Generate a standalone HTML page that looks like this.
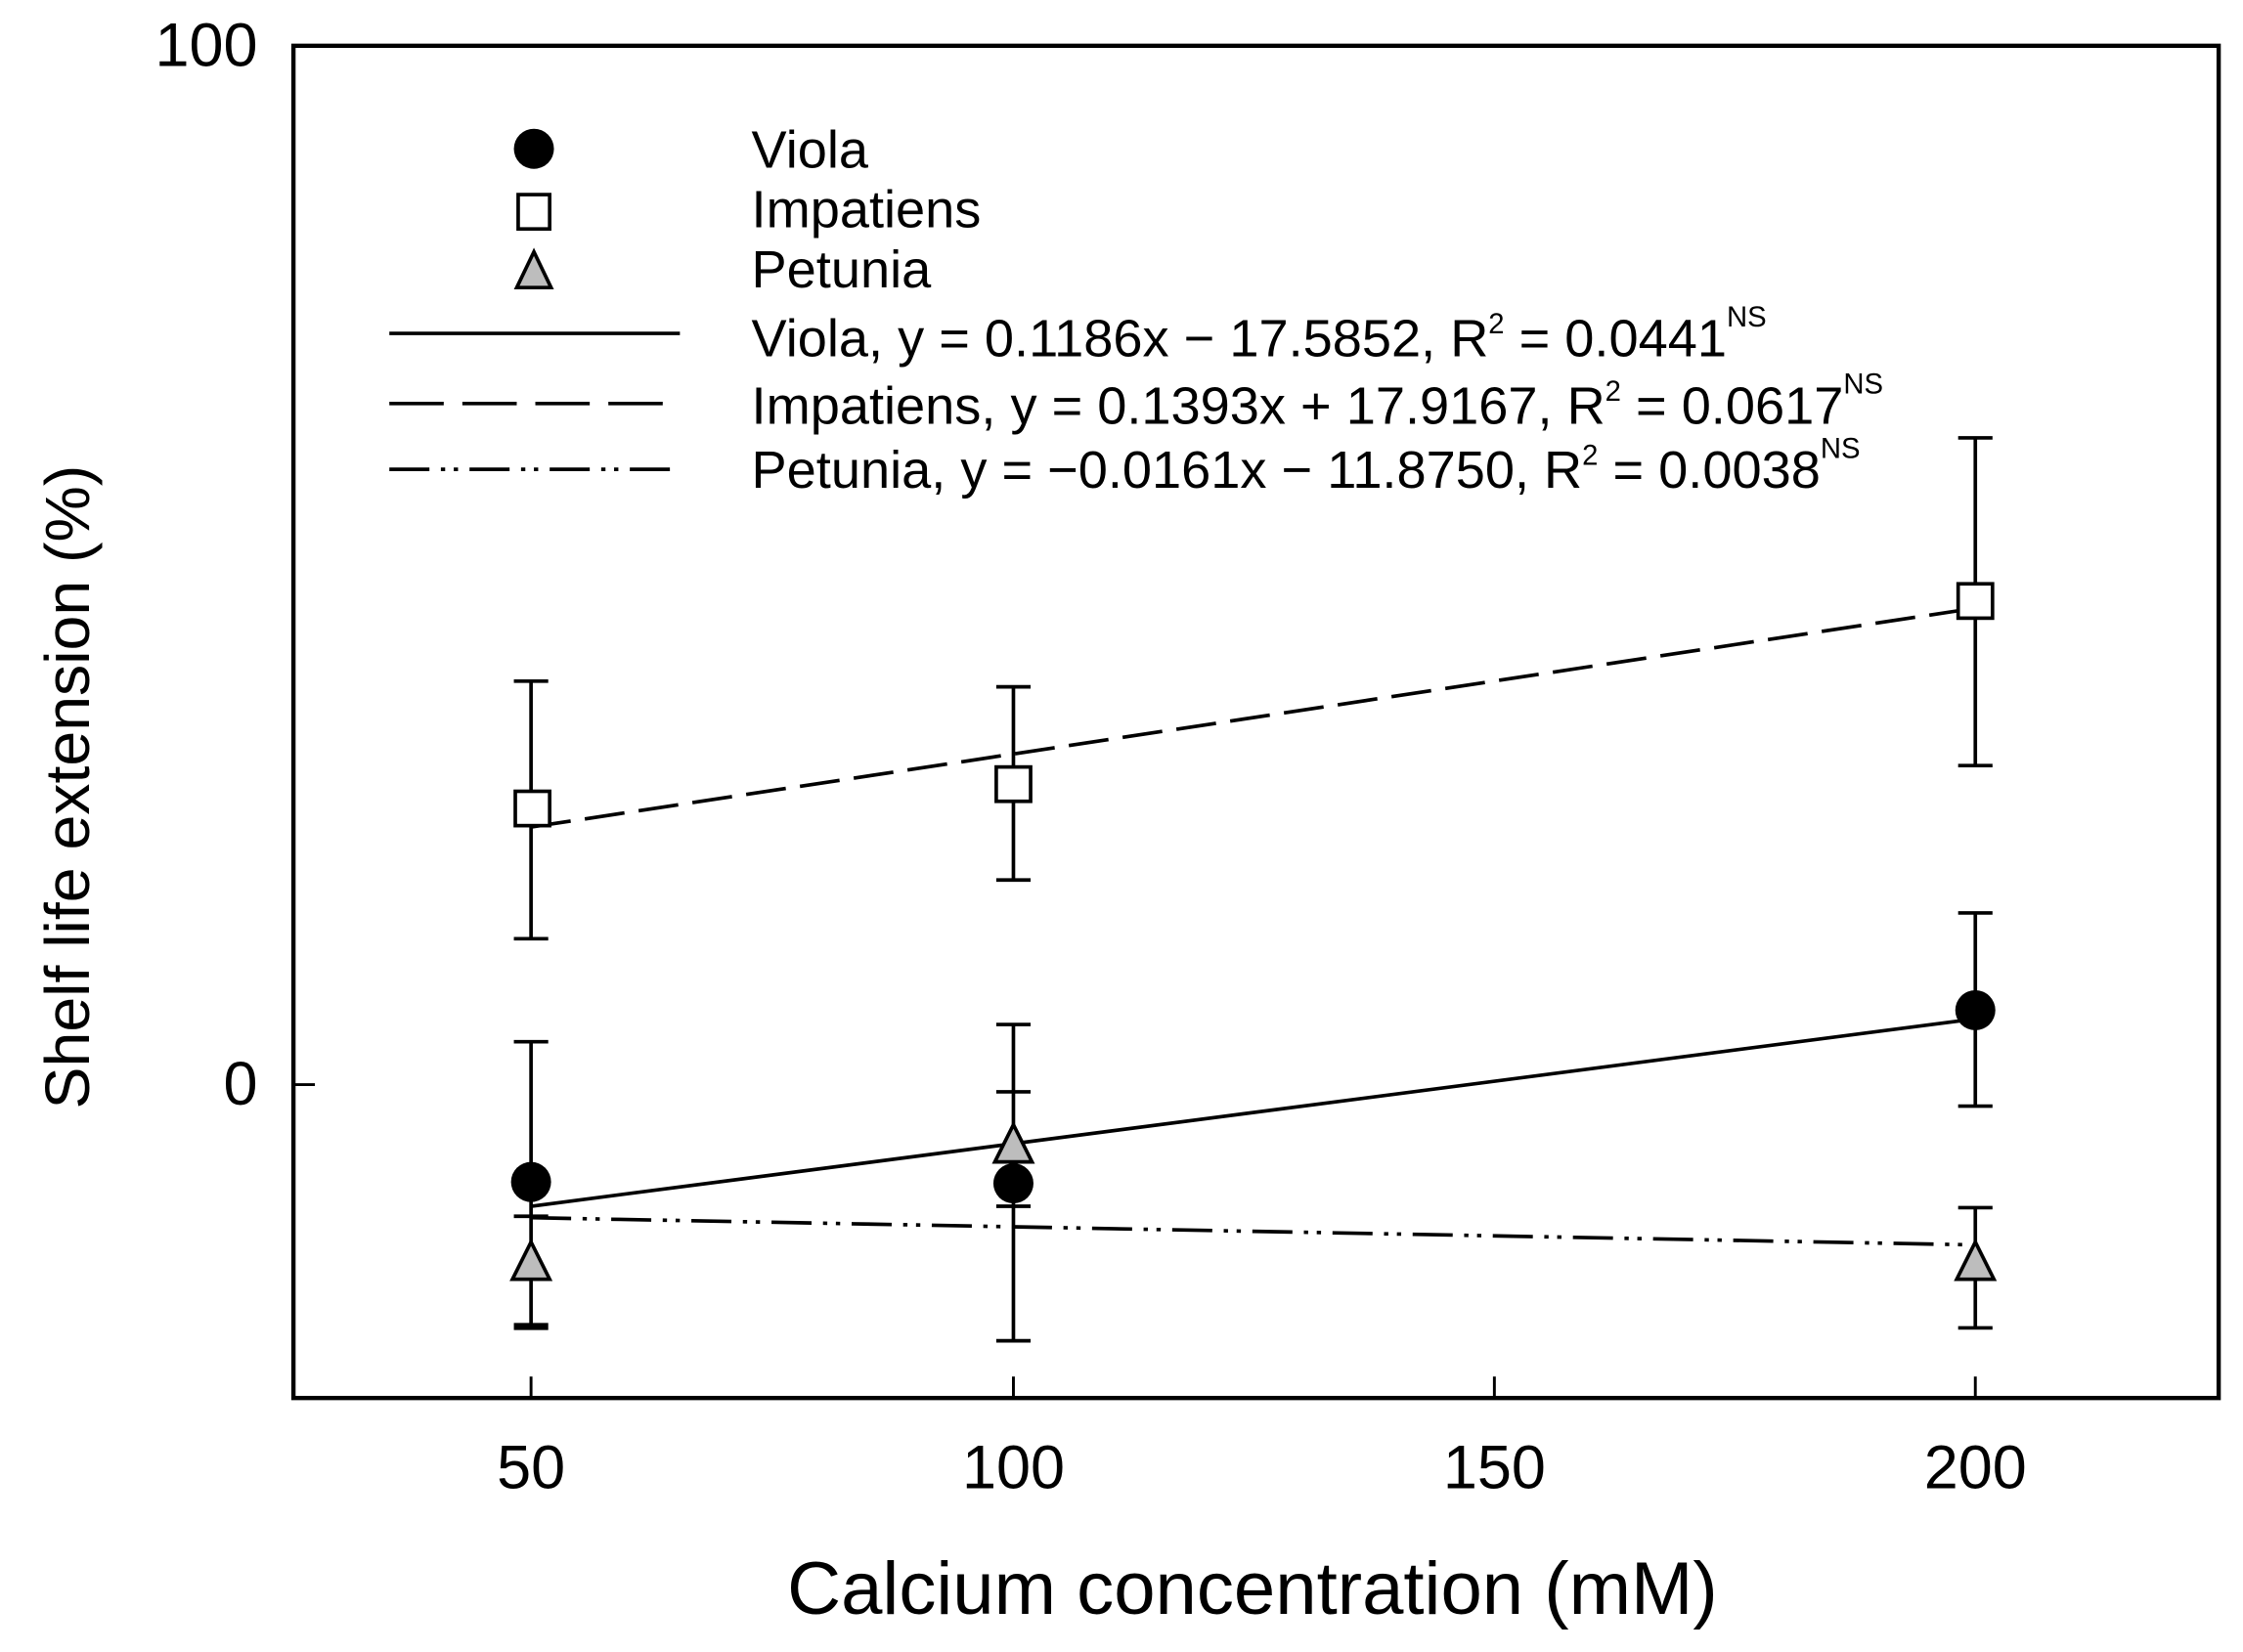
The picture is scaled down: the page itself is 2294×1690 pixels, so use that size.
<!DOCTYPE html>
<html><head><style>html,body{margin:0;padding:0;background:#fff}svg{display:block}</style></head>
<body>
<svg width="2294" height="1690" viewBox="0 0 1567 1154.5" preserveAspectRatio="none" xmlns="http://www.w3.org/2000/svg" font-family="Liberation Sans, Arial, sans-serif">
<rect x="0" y="0" width="1570" height="1160" fill="#fff"/>
<rect x="205" y="32" width="1345" height="945" fill="none" stroke="#000" stroke-width="3"/>
<g stroke="#000" stroke-width="2">
<line x1="205" y1="758" x2="220" y2="758"/>
<line x1="371" y1="977" x2="371" y2="962"/>
<line x1="708" y1="977" x2="708" y2="962"/>
<line x1="1044" y1="977" x2="1044" y2="962"/>
<line x1="1380" y1="977" x2="1380" y2="962"/>
</g>
<g font-size="43" fill="#000">
<text x="180" y="46" text-anchor="end">100</text>
<text x="180" y="772" text-anchor="end">0</text>
<text x="371" y="1040" text-anchor="middle">50</text>
<text x="708" y="1040" text-anchor="middle">100</text>
<text x="1044" y="1040" text-anchor="middle">150</text>
<text x="1380" y="1040" text-anchor="middle">200</text>
</g>
<text x="875" y="1128" text-anchor="middle" font-size="52">Calcium concentration (mM)</text>
<text transform="translate(62,550) rotate(-90)" text-anchor="middle" font-size="44">Shelf life extension (%)</text>
<line x1="371" y1="843" x2="1380" y2="712" stroke="#000" stroke-width="2.5"/>
<line x1="371" y1="578" x2="1380" y2="425" stroke="#000" stroke-width="2.5" stroke-dasharray="28,10"/>
<line x1="371" y1="851" x2="1380" y2="870" stroke="#000" stroke-width="2.5" stroke-dasharray="28,8,3,6,3,8"/>
<g stroke="#000" stroke-width="2.5">
<line x1="371" y1="476" x2="371" y2="656"/><line x1="359" y1="476" x2="383" y2="476"/><line x1="359" y1="656" x2="383" y2="656"/>
<line x1="708" y1="480" x2="708" y2="615"/><line x1="696" y1="480" x2="720" y2="480"/><line x1="696" y1="615" x2="720" y2="615"/>
<line x1="1380" y1="306" x2="1380" y2="535"/><line x1="1368" y1="306" x2="1392" y2="306"/><line x1="1368" y1="535" x2="1392" y2="535"/>
<line x1="371" y1="728" x2="371" y2="927"/><line x1="359" y1="728" x2="383" y2="728"/><line x1="359" y1="927" x2="383" y2="927" stroke-width="5"/>
<line x1="359" y1="850" x2="383" y2="850"/>
<line x1="708" y1="716" x2="708" y2="937"/><line x1="696" y1="716" x2="720" y2="716"/><line x1="696" y1="937" x2="720" y2="937"/>
<line x1="696" y1="763" x2="720" y2="763"/><line x1="696" y1="843" x2="720" y2="843"/>
<line x1="1380" y1="638" x2="1380" y2="773"/><line x1="1368" y1="638" x2="1392" y2="638"/><line x1="1368" y1="773" x2="1392" y2="773"/>
<line x1="1380" y1="844" x2="1380" y2="928"/><line x1="1368" y1="844" x2="1392" y2="844"/><line x1="1368" y1="928" x2="1392" y2="928"/>
</g>
<g fill="#000">
<circle cx="371" cy="826" r="14"/><circle cx="708" cy="827" r="14"/><circle cx="1380" cy="706" r="14"/>
<circle cx="373" cy="104" r="14"/>
</g>
<g fill="#fff" stroke="#000" stroke-width="2.5">
<rect x="360" y="553" width="24" height="24"/><rect x="696" y="536" width="24" height="24"/><rect x="1368" y="408" width="24" height="24"/>
<rect x="362" y="136" width="22" height="24"/>
</g>
<g fill="#bdbdbd" stroke="#000" stroke-width="2.5">
<polygon points="371,868 358,894 384,894"/>
<polygon points="708,786 695,812 721,812"/>
<polygon points="1380,868 1367,894 1393,894"/>
<polygon points="373,176 361,201 385,201"/>
</g>
<g font-size="37" fill="#000">
<text x="525" y="117">Viola</text>
<text x="525" y="159">Impatiens</text>
<text x="525" y="201">Petunia</text>
<text x="525" y="249">Viola, y = 0.1186x − 17.5852, R<tspan dy="-16" font-size="20">2</tspan><tspan dy="16"> = 0.0441</tspan><tspan dy="-21" font-size="20">NS</tspan></text>
<text x="525" y="296">Impatiens, y = 0.1393x + 17.9167, R<tspan dy="-16" font-size="20">2</tspan><tspan dy="16"> = 0.0617</tspan><tspan dy="-21" font-size="20">NS</tspan></text>
<text x="525" y="341">Petunia, y = −0.0161x − 11.8750, R<tspan dy="-16" font-size="20">2</tspan><tspan dy="16"> = 0.0038</tspan><tspan dy="-21" font-size="20">NS</tspan></text>
</g>
<line x1="272" y1="233" x2="475" y2="233" stroke="#000" stroke-width="2.5"/>
<line x1="272" y1="282" x2="475" y2="282" stroke="#000" stroke-width="2.5" stroke-dasharray="38,13"/>
<line x1="272" y1="328" x2="475" y2="328" stroke="#000" stroke-width="2.5" stroke-dasharray="28,8,3,6,3,8"/>
</svg>
</body></html>
